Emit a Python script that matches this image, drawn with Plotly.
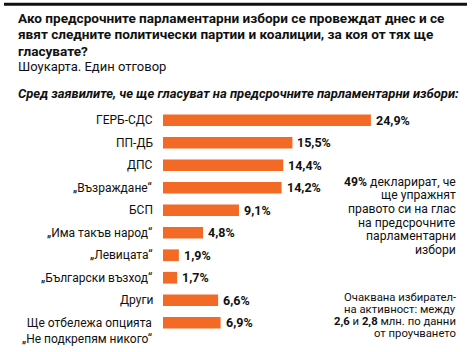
import plotly.graph_objects as go

categories = ["ГЕРБ-СДС", "ПП-ДБ", "ДПС", "„Възраждане“", "БСП",
              "„Има такъв народ“", "„Левицата“", "„Български възход“", "Други",
              "Ще отбележа опцията<br>„Не подкрепям никого“"]
values = [24.9, 15.5, 14.4, 14.2, 9.1, 4.8, 1.9, 1.7, 6.6, 6.9]
value_labels = ["<b>" + f"{v:.1f}".replace(".", ",") + "%</b>" for v in values]

title_lines = ["Ако предсрочните парламентарни избори се провеждат днес и се",
               "явят следните политически партии и коалиции, за коя от тях ще",
               "гласувате?"]
subtitle = "Шоукарта. Един отговор"
heading = "Сред заявилите, че ще гласуват на предсрочните парламентарни избори:"
note1 = ["<b>49%</b> декларират, че", "ще упражнят", "правото си на глас",
         "на предсрочните", "парламентарни", "избори"]
note2 = ["Очаквана избирател-", "на активност: между",
         "<b>2,6</b> и <b>2,8</b> млн. по данни", "от проучването"]

W, H = 474, 352
L, T, B = 163, 109.25, 17.75
PW, PH = W - L, H - T - B
FONT = "Roboto"
ORANGE = "#f26a25"
INK = "#111111"

def px(x):
    return (x - L) / PW

def py(y):
    return (H - B - y) / PH

ypos = list(range(len(categories)))

fig = go.Figure(go.Bar(
    x=values, y=ypos, orientation="h",
    marker=dict(color=ORANGE, line=dict(width=0)),
    width=0.52, hoverinfo="skip",
))

ann = []
for i, c in enumerate(categories):
    multi = "<br>" in c
    ann.append(dict(x=0, y=i, xref="x", yref="y", text=c, showarrow=False,
                    xanchor="right", yanchor="middle", align="right",
                    xshift=-8, yshift=-8.5 if multi else 0,
                    font=dict(family=FONT, size=12, color=INK)))
for i, (v, t) in enumerate(zip(values, value_labels)):
    ann.append(dict(x=v, y=i, xref="x", yref="y", text=t, showarrow=False,
                    xanchor="left", yanchor="middle", xshift=3,
                    font=dict(family=FONT, size=12.5, color=INK)))

for j, t in enumerate(title_lines):
    ann.append(dict(x=px(16), y=py(18 + 16.5 * j), xref="paper", yref="paper",
                    text="<b>" + t + "</b>", showarrow=False, xanchor="left",
                    yanchor="middle", font=dict(family=FONT, size=13.6, color=INK)))
ann.append(dict(x=px(16), y=py(67), xref="paper", yref="paper", text=subtitle,
                showarrow=False, xanchor="left", yanchor="middle",
                font=dict(family=FONT, size=13, color=INK)))
ann.append(dict(x=px(16), y=py(94), xref="paper", yref="paper",
                text="<b><i>" + heading + "</i></b>", showarrow=False,
                xanchor="left", yanchor="middle",
                font=dict(family=FONT, size=13, color=INK)))
for j, t in enumerate(note1):
    ann.append(dict(x=px(458), y=py(182 + 13.6 * j), xref="paper", yref="paper",
                    text=t, showarrow=False, xanchor="right", yanchor="middle",
                    font=dict(family=FONT, size=12.2, color=INK)))
for j, t in enumerate(note2):
    ann.append(dict(x=px(458), y=py(298 + 12 * j), xref="paper", yref="paper",
                    text=t, showarrow=False, xanchor="right", yanchor="middle",
                    font=dict(family=FONT, size=11.3, color=INK)))

fig.update_layout(
    width=W, height=H,
    margin=dict(l=L, r=0, t=T, b=B, pad=0),
    paper_bgcolor="white", plot_bgcolor="white",
    showlegend=False,
    xaxis=dict(range=[0, PW / 8.35], visible=False, fixedrange=True),
    yaxis=dict(range=[9.5, -0.5], visible=False, fixedrange=True),
    annotations=ann,
    shapes=[dict(type="line", xref="paper", yref="paper",
                 x0=px(4), x1=px(467), y0=py(4.5), y1=py(4.5),
                 line=dict(color=INK, width=3))],
    font=dict(family=FONT),
)

fig.write_html("out.html", config={"displayModeBar": False})
